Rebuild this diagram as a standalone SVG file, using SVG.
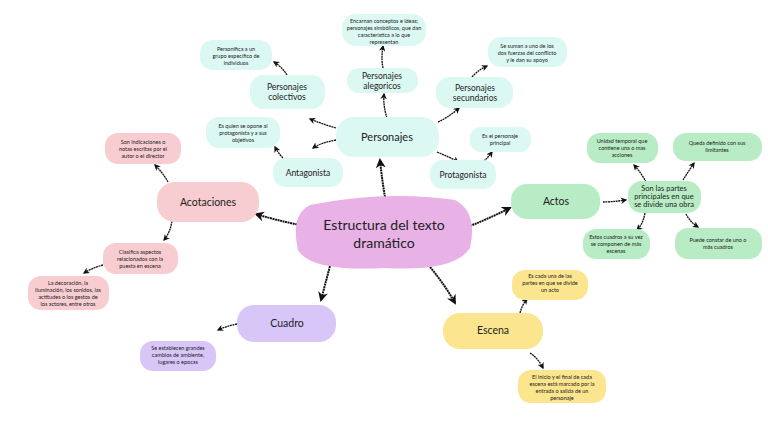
<svg xmlns="http://www.w3.org/2000/svg" width="768" height="431" viewBox="0 0 768 431">
<defs>
<marker id="ah" viewBox="0 0 10 10" refX="8" refY="5" markerWidth="5" markerHeight="5" orient="auto"><path d="M0,0 L10,5 L0,10 L3,5 Z" fill="#111"/></marker>
<style>
text{font-family:"Lato","Noto Sans",sans-serif;fill:#222;text-anchor:middle}
.t{font-size:11px}.s{font-size:5.5px}.m{font-size:14px}
.cy{fill:#dcf8f3}.pk{fill:#f8cdd1}.gr{fill:#b8ecc4}.pu{fill:#d8c6f8}.ye{fill:#fce58f}.mn{fill:#e8b2e6}
.c path{fill:none;stroke:#111;stroke-width:1.3;stroke-dasharray:2 0.6;marker-end:url(#ah)}
.c .b{stroke-width:2}
</style>
</defs>
<rect width="768" height="431" fill="#fff"/>
<g class="c">
<path class="b" d="M385,197 Q382,180 380,160"/>
<path class="b" d="M300,225 Q275,220 256,214"/>
<path class="b" d="M470,226 Q490,218 510,208"/>
<path class="b" d="M330,266 Q325,285 321,300"/>
<path class="b" d="M430,267 Q445,285 455,303"/>
<path d="M336,140 Q320,143 313,148"/>
<path d="M336,128 Q322,124 310,119"/>
<path d="M387,118 Q383,106 384,94"/>
<path d="M438,122 Q449,117 459,108"/>
<path d="M437,152 Q450,157 458,162"/>
<path d="M287,75 Q282,67 274,62"/>
<path d="M383,68 Q381,58 383,46"/>
<path d="M472,77 Q478,70 487,66"/>
<path d="M283,158 Q278,153 275,147"/>
<path d="M477,165 Q485,162 492,152"/>
<path d="M168,182 Q163,173 155,165"/>
<path d="M172,221 Q170,233 164,240"/>
<path d="M103,265 Q92,268 84,273"/>
<path d="M603,202 Q612,202 626,200"/>
<path d="M646,182 Q642,174 634,165"/>
<path d="M683,180 Q688,172 694,163"/>
<path d="M645,213 Q643,224 637,230"/>
<path d="M686,214 Q690,222 698,227"/>
<path d="M237,324 Q227,326 218,330"/>
<path d="M520,313 Q522,305 527,299"/>
<path d="M530,353 Q538,358 543,368"/>
</g>
<g id="main"><path class="mn" d="M310,205 Q385,190 455,200 Q478,212 470,248 Q455,272 385,268 Q310,272 298,250 Q290,215 310,205Z"/><text class="m" x="384" y="230">Estructura del texto</text><text class="m" x="384" y="248">dramático</text></g>
<g id="personajes"><rect class="cy" x="336" y="117" width="103" height="40" rx="18"/><text class="t" x="387" y="141">Personajes</text></g>
<g id="antagonista"><rect class="cy" x="273" y="158" width="70" height="29" rx="13"/><text class="s" style="font-size:8.5px" x="308" y="176">Antagonista</text></g>
<g id="protagonista"><rect class="cy" x="430" y="160" width="66" height="29" rx="13"/><text style="font-size:8.5px" x="463" y="178">Protagonista</text></g>
<g id="colectivos"><rect class="cy" x="250" y="75" width="75" height="34" rx="14"/><text style="font-size:8.5px" x="287" y="90">Personajes</text><text style="font-size:8.5px" x="287" y="100">colectivos</text></g>
<g id="alegoricos"><rect class="cy" x="347" y="68" width="71" height="25" rx="12"/><text style="font-size:8.5px" x="382" y="79">Personajes</text><text style="font-size:8.5px" x="382" y="89">alegoricos</text></g>
<g id="secundarios"><rect class="cy" x="436" y="77" width="77" height="31" rx="14"/><text style="font-size:8.5px" x="475" y="91">Personajes</text><text style="font-size:8.5px" x="475" y="101">secundarios</text></g>
<g id="encarnan"><rect class="cy" x="342" y="14" width="84" height="32" rx="14"/><text class="s" x="384" y="23">Encarnan conceptos e ideas;</text><text class="s" x="384" y="30">personajes simbólicos, que dan</text><text class="s" x="384" y="37">característica a lo que</text><text class="s" x="384" y="44">representan</text></g>
<g id="personifica"><rect class="cy" x="200" y="40" width="72" height="30" rx="13"/><text class="s" x="236" y="51">Personifica a un</text><text class="s" x="236" y="58">grupo específico de</text><text class="s" x="236" y="65">individuos</text></g>
<g id="suman"><rect class="cy" x="488" y="37" width="79" height="30" rx="13"/><text class="s" x="527" y="48">Se suman a uno de los</text><text class="s" x="527" y="55">dos fuerzas del conflicto</text><text class="s" x="527" y="62">y le dan su apoyo</text></g>
<g id="opone"><rect class="cy" x="206" y="117" width="74" height="31" rx="13"/><text class="s" x="243" y="128">Es quien se opone al</text><text class="s" x="243" y="135">protagonista y a sus</text><text class="s" x="243" y="142">objetivos</text></g>
<g id="principal"><rect class="cy" x="470" y="127" width="61" height="25" rx="11"/><text class="s" x="500" y="138">Es el personaje</text><text class="s" x="500" y="145">principal</text></g>
<g id="acotaciones"><rect class="pk" x="157" y="182" width="102" height="40" rx="18"/><text style="font-size:10.5px" x="208" y="206">Acotaciones</text></g>
<g id="indicaciones"><rect class="pk" x="105" y="133" width="76" height="31" rx="13"/><text class="s" x="143" y="144">Son indicaciones o</text><text class="s" x="143" y="151">notas escritas por el</text><text class="s" x="143" y="158">autor o el director</text></g>
<g id="clasifica"><rect class="pk" x="103" y="243" width="75" height="31" rx="13"/><text class="s" x="140" y="254">Clasifica aspectos</text><text class="s" x="140" y="261">relacionados con la</text><text class="s" x="140" y="268">puesta en escena</text></g>
<g id="decoracion"><rect class="pk" x="28" y="276" width="81" height="34" rx="13"/><text class="s" x="68" y="285">La decoración, la</text><text class="s" x="68" y="292">iluminación, los sonidos, las</text><text class="s" x="68" y="299">actitudes o los gestos de</text><text class="s" x="68" y="306">los actores, entre otros</text></g>
<g id="actos"><rect class="gr" x="511" y="184" width="89" height="35" rx="16"/><text style="font-size:10.5px" x="556" y="205">Actos</text></g>
<g id="partes"><rect class="gr" x="628" y="181" width="73" height="32" rx="14"/><text style="font-size:7.5px" x="664" y="191">Son las partes</text><text style="font-size:7.5px" x="664" y="199">principales en que</text><text style="font-size:7.5px" x="664" y="207">se divide una obra</text></g>
<g id="unidad"><rect class="gr" x="587" y="133" width="71" height="30" rx="13"/><text class="s" x="622" y="143">Unidad temporal que</text><text class="s" x="622" y="150">contiene una o mas</text><text class="s" x="622" y="157">acciones</text></g>
<g id="queda"><rect class="gr" x="673" y="133" width="89" height="28" rx="13"/><text class="s" x="717" y="145">Queda definido con sus</text><text class="s" x="717" y="152">limitantes</text></g>
<g id="estos"><rect class="gr" x="583" y="229" width="67" height="30" rx="13"/><text class="s" x="616" y="239">Estos cuadros a su vez</text><text class="s" x="616" y="246">se componen de más</text><text class="s" x="616" y="253">escenas</text></g>
<g id="puede"><rect class="gr" x="675" y="228" width="87" height="31" rx="13"/><text class="s" x="718" y="242">Puede constar de uno o</text><text class="s" x="718" y="249">más cuadros</text></g>
<g id="cuadro"><rect class="pu" x="237" y="305" width="99" height="37" rx="17"/><text style="font-size:10.5px" x="287" y="327">Cuadro</text></g>
<g id="establecen"><rect class="pu" x="140" y="341" width="76" height="30" rx="13"/><text class="s" x="178" y="350">Se establecen grandes</text><text class="s" x="178" y="357">cambios de ambiente,</text><text class="s" x="178" y="364">lugares o epocas</text></g>
<g id="escena"><rect class="ye" x="443" y="313" width="100" height="36" rx="17"/><text style="font-size:10.5px" x="493" y="334">Escena</text></g>
<g id="cada"><rect class="ye" x="512" y="270" width="76" height="30" rx="13"/><text class="s" x="550" y="278">Es cada una de las</text><text class="s" x="550" y="285">partes en que se divide</text><text class="s" x="550" y="292">un acto</text></g>
<g id="inicio"><rect class="ye" x="518" y="370" width="88" height="33" rx="13"/><text class="s" x="562" y="379">El inicio y el final de cada</text><text class="s" x="562" y="386">escena está marcado por la</text><text class="s" x="562" y="393">entrada o salida de un</text><text class="s" x="562" y="400">personaje</text></g>
</svg>
